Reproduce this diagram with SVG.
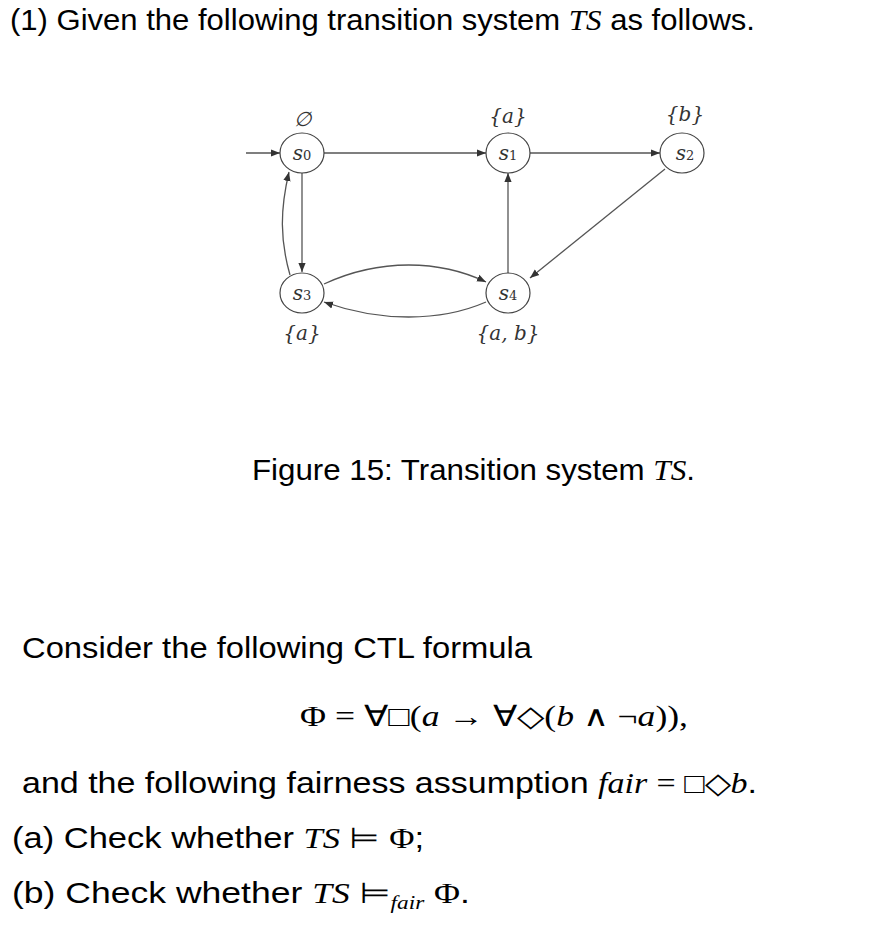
<svg xmlns="http://www.w3.org/2000/svg" width="874" height="936" viewBox="0 0 874 936">
<style>
.t{font-family:"Liberation Sans",Arial,sans-serif;font-size:29px;fill:#000}
.m{font-family:"Liberation Serif","DejaVu Serif",serif;font-style:italic}
.n{fill:#fff;stroke:#444;stroke-width:1.2}
.l{font-family:"DejaVu Serif",serif;font-style:italic;font-size:20px;fill:#333;text-anchor:middle}
.e{fill:none;stroke:#555;stroke-width:1.3;marker-end:url(#a)}
</style>
<defs><marker id="a" viewBox="0 0 10 10" refX="10" refY="5" markerWidth="7" markerHeight="7" orient="auto"><path d="M0,1 L10,5 L0,9z" fill="#333"/></marker></defs>
<rect width="874" height="936" fill="#fff"/>
<text class="t" x="10" y="30" textLength="745" lengthAdjust="spacingAndGlyphs">(1) Given the following transition system <tspan class="m">TS</tspan> as follows.</text>
<g id="edges">
<path class="e" d="M246,153 H280"/>
<path class="e" d="M324,153 H486"/>
<path class="e" d="M530,153 H660"/>
<path class="e" d="M302,173 V272"/>
<path class="e" d="M290,275 C280,240 280,210 289,172"/>
<path class="e" d="M508,274 V173"/>
<path class="e" d="M665,169 L530,278"/>
<path class="e" d="M324,284 C380,258 440,260 486,282"/>
<path class="e" d="M486,302 C440,322 380,322 324,302"/>
</g>
<g id="s0"><ellipse class="n" cx="302" cy="153" rx="22" ry="20"/><text class="l" x="302" y="160">s<tspan font-size="13" font-style="normal">0</tspan></text><text class="l" x="302" y="126">∅</text></g>
<g id="s1"><ellipse class="n" cx="508" cy="153" rx="22" ry="20"/><text class="l" x="508" y="160">s<tspan font-size="13" font-style="normal">1</tspan></text><text class="l" x="508" y="123">{a}</text></g>
<g id="s2"><ellipse class="n" cx="682" cy="153" rx="22" ry="20"/><text class="l" x="685" y="160">s<tspan font-size="13" font-style="normal">2</tspan></text><text class="l" x="685" y="121">{b}</text></g>
<g id="s3"><ellipse class="n" cx="302" cy="293" rx="22" ry="20"/><text class="l" x="302" y="300">s<tspan font-size="13" font-style="normal">3</tspan></text><text class="l" x="302" y="340">{a}</text></g>
<g id="s4"><ellipse class="n" cx="508" cy="293" rx="22" ry="20"/><text class="l" x="508" y="300">s<tspan font-size="13" font-style="normal">4</tspan></text><text class="l" x="508" y="340">{a, b}</text></g>
<text class="t" x="252" y="480" textLength="443" lengthAdjust="spacingAndGlyphs">Figure 15: Transition system <tspan class="m">TS</tspan>.</text>
<text class="t" x="22" y="658" textLength="510" lengthAdjust="spacingAndGlyphs">Consider the following CTL formula</text>
<text class="t" x="300" y="726" textLength="388" lengthAdjust="spacingAndGlyphs"><tspan font-family="Liberation Serif,serif">Φ = ∀□(<tspan class="m">a</tspan> → ∀◇(<tspan class="m">b</tspan> ∧ ¬<tspan class="m">a</tspan>)),</tspan></text>
<text class="t" x="22" y="793" textLength="735" lengthAdjust="spacingAndGlyphs">and the following fairness assumption <tspan class="m">fair</tspan> <tspan font-family="Liberation Serif,serif">= □◇<tspan class="m">b</tspan></tspan>.</text>
<text class="t" x="12" y="848" textLength="412" lengthAdjust="spacingAndGlyphs">(a) Check whether <tspan class="m">TS</tspan> <tspan font-family="DejaVu Sans,sans-serif">⊨</tspan> <tspan font-family="Liberation Serif,serif">Φ</tspan>;</text>
<text class="t" x="12" y="903" textLength="458" lengthAdjust="spacingAndGlyphs">(b) Check whether <tspan class="m">TS</tspan> <tspan font-family="DejaVu Sans,sans-serif">⊨</tspan><tspan class="m" font-size="19" dy="6">fair</tspan> <tspan font-family="Liberation Serif,serif" dy="-6">Φ</tspan>.</text>
</svg>
